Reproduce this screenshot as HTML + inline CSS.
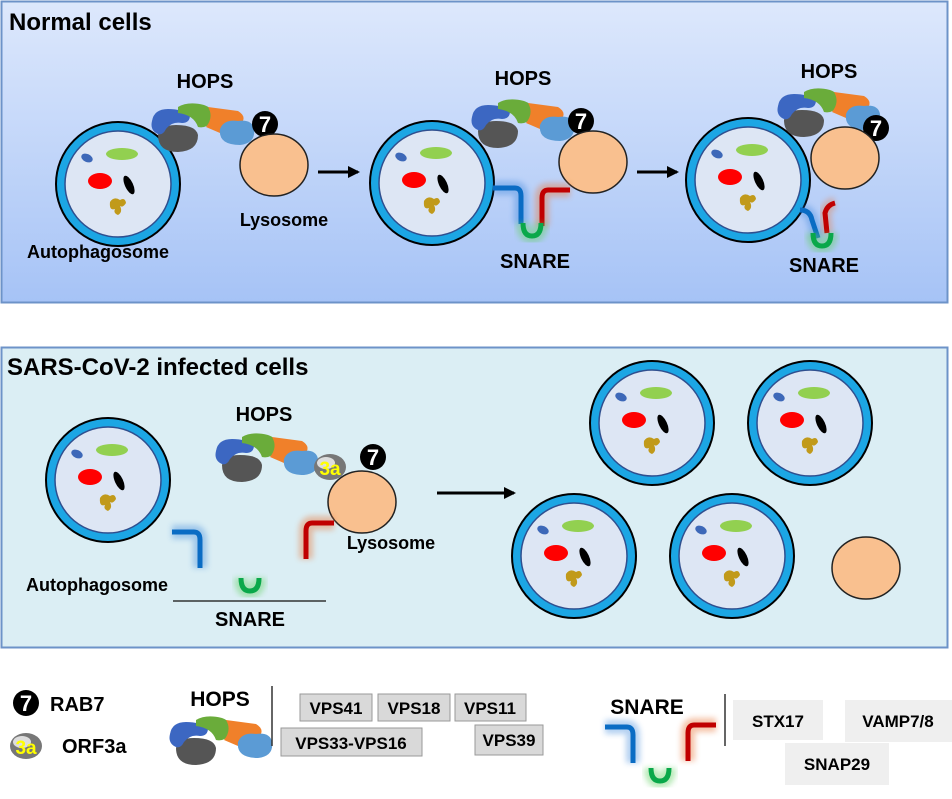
<!DOCTYPE html>
<html><head><meta charset="utf-8"><style>
html,body{margin:0;padding:0;background:#fff;}
svg{display:block;font-family:"Liberation Sans",Arial,sans-serif;font-weight:bold;}
</style></head><body>
<svg width="952" height="799" viewBox="0 0 952 799" xmlns="http://www.w3.org/2000/svg">
<defs>
<linearGradient id="g1" x1="0" y1="0" x2="0" y2="1">
<stop offset="0" stop-color="#dde8fc"/><stop offset="1" stop-color="#a6c3f6"/></linearGradient>
<filter id="bl" x="-50%" y="-50%" width="200%" height="200%"><feGaussianBlur stdDeviation="3"/></filter>
<g id="cell">
<circle r="62" fill="#1ca6e4" stroke="#000" stroke-width="2"/>
<circle r="53" fill="#dde6f4" stroke="#2f4f8f" stroke-width="1.5"/>
<ellipse cx="-31" cy="-26" rx="6" ry="4" fill="#3d68b8" transform="rotate(25 -31 -26)"/>
<ellipse cx="4" cy="-30" rx="16" ry="6" fill="#92d050"/>
<ellipse cx="-18" cy="-3" rx="12" ry="8" fill="#f00"/>
<ellipse cx="11" cy="1" rx="4" ry="10" fill="#000" transform="rotate(-25 11 1)"/>
<path d="M-8 18 q4 -6 10 -2 q5 -3 6 3 q-3 5 -6 3 q3 6 -2 9 q-5 -2 -3 -6 q-6 2 -5 -7z" fill="#c19a1a"/>
</g>
<g id="lyso"><ellipse rx="34" ry="31" fill="#f9c08f" stroke="#222" stroke-width="1.5"/></g>
<g id="hops">
<path d="M8 36 q2 -10 18 -10 q20 0 22 10 q0 16 -20 17 q-20 0 -20 -17z" fill="#555"/>
<path d="M2 22 q2 -12 16 -12 q14 0 22 6 q0 8 -8 8 q-10 -2 -16 6 q-4 8 -10 4 q-6 -4 -4 -12z" fill="#3c67c2"/>
<path d="M28 8 q10 -6 26 -2 q12 4 8 16 q-6 8 -14 6 q-4 -12 -20 -14z" fill="#6aac3a"/>
<path d="M58 8 l30 4 q10 6 2 14 q-12 4 -20 8 l-14 -6 q8 -10 2 -20z" fill="#f0802a"/>
<path d="M70 30 q4 -10 18 -8 q14 -2 16 8 q2 14 -14 16 q-22 0 -20 -16z" fill="#5b9bd5"/>
</g>
<g id="rab7"><circle r="13" fill="#000"/><text x="0" y="8" font-size="22" fill="#fff" text-anchor="middle">7</text></g>
<g id="orf"><ellipse rx="16" ry="13" fill="#777"/><ellipse cx="-4" cy="-4" rx="9" ry="6" fill="#ddd"/><text x="0" y="8" font-size="19" fill="#ff0" text-anchor="middle">3a</text></g>
<g id="blue"><path d="M0 0 h22 q6 0 6 8 v28" fill="none" stroke="#2a7bd8" stroke-width="14" opacity="0.35" filter="url(#bl)"/><path d="M0 0 h22 q6 0 6 8 v28" fill="none" stroke="#0a6cc4" stroke-width="5"/></g>
<g id="red"><path d="M0 0 h-22 q-6 0 -6 8 v28" fill="none" stroke="#e87a40" stroke-width="14" opacity="0.45" filter="url(#bl)"/><path d="M0 0 h-22 q-6 0 -6 8 v28" fill="none" stroke="#c00000" stroke-width="5"/></g>
<g id="green"><path d="M-9 0 q0 13 9 13 q9 0 9 -13" fill="none" stroke="#60d060" stroke-width="14" opacity="0.45" filter="url(#bl)"/><path d="M-9 0 q0 13 9 13 q9 0 9 -13" fill="none" stroke="#0aa84a" stroke-width="5"/></g>
<marker id="ar" markerWidth="12" markerHeight="12" refX="10" refY="6" orient="auto" markerUnits="userSpaceOnUse"><path d="M0 0 L12 6 L0 12z" fill="#000"/></marker>
</defs>

<!-- Panel 1 -->
<rect x="1.5" y="1.5" width="946" height="301" fill="url(#g1)" stroke="#6d93c8" stroke-width="2"/>
<text x="9" y="30" font-size="24">Normal cells</text>
<use href="#cell" x="118" y="184"/>
<use href="#hops" x="150" y="99"/>
<use href="#rab7" x="265" y="124"/>
<use href="#lyso" x="274" y="165"/>
<text x="284" y="226" font-size="18" text-anchor="middle">Lysosome</text>
<text x="98" y="258" font-size="18" text-anchor="middle">Autophagosome</text>
<text x="205" y="88" font-size="20" text-anchor="middle">HOPS</text>
<line x1="318" y1="172" x2="358" y2="172" stroke="#000" stroke-width="3" marker-end="url(#ar)"/>

<use href="#cell" x="432" y="183"/>
<use href="#hops" x="470" y="95"/>
<use href="#rab7" x="581" y="121"/>
<use href="#lyso" x="593" y="162"/>
<text x="523" y="85" font-size="20" text-anchor="middle">HOPS</text>
<use href="#blue" x="493" y="188"/>
<use href="#red" x="570" y="190"/>
<use href="#green" x="532" y="223"/>
<text x="535" y="268" font-size="20" text-anchor="middle">SNARE</text>
<line x1="637" y1="172" x2="677" y2="172" stroke="#000" stroke-width="3" marker-end="url(#ar)"/>

<use href="#cell" x="748" y="180"/>
<use href="#hops" x="776" y="84"/>
<use href="#rab7" x="876" y="128"/>
<use href="#lyso" x="845" y="158"/>
<text x="829" y="78" font-size="20" text-anchor="middle">HOPS</text>
<path d="M800 210 q10 0 12 10 l6 18" fill="none" stroke="#2a7bd8" stroke-width="12" opacity="0.35" filter="url(#bl)"/>
<path d="M800 210 q10 0 12 10 l6 18" fill="none" stroke="#0a6cc4" stroke-width="5"/>
<path d="M835 203 q-8 2 -10 10 l2 20" fill="none" stroke="#e87a40" stroke-width="12" opacity="0.4" filter="url(#bl)"/>
<path d="M835 203 q-8 2 -10 10 l2 20" fill="none" stroke="#c00000" stroke-width="5"/>
<use href="#green" x="822" y="233"/>
<text x="824" y="272" font-size="20" text-anchor="middle">SNARE</text>

<!-- Panel 2 -->
<rect x="1.5" y="347.5" width="946" height="300" fill="#dbeef4" stroke="#6d93c8" stroke-width="2"/>
<text x="7" y="375" font-size="24">SARS-CoV-2 infected cells</text>
<use href="#cell" x="108" y="480"/>
<use href="#hops" x="214" y="429"/>
<use href="#orf" x="330" y="467"/>
<use href="#rab7" x="373" y="457"/>
<use href="#lyso" x="362" y="502"/>
<text x="264" y="421" font-size="20" text-anchor="middle">HOPS</text>
<text x="391" y="549" font-size="18" text-anchor="middle">Lysosome</text>
<text x="97" y="591" font-size="18" text-anchor="middle">Autophagosome</text>
<use href="#blue" x="172" y="532"/>
<use href="#red" x="334" y="523"/>
<use href="#green" x="250" y="578"/>
<line x1="173" y1="601" x2="326" y2="601" stroke="#333" stroke-width="1.5"/>
<text x="250" y="626" font-size="20" text-anchor="middle">SNARE</text>
<line x1="437" y1="493" x2="514" y2="493" stroke="#000" stroke-width="3" marker-end="url(#ar)"/>
<use href="#cell" x="652" y="423"/>
<use href="#cell" x="810" y="423"/>
<use href="#cell" x="574" y="556"/>
<use href="#cell" x="732" y="556"/>
<use href="#lyso" x="866" y="568"/>

<!-- Legend -->
<use href="#rab7" x="26" y="703"/>
<text x="50" y="711" font-size="20">RAB7</text>
<use href="#orf" x="26" y="746"/>
<text x="62" y="753" font-size="20">ORF3a</text>
<text x="220" y="706" font-size="21" text-anchor="middle">HOPS</text>
<use href="#hops" x="168" y="712"/>
<line x1="272" y1="686" x2="272" y2="746" stroke="#333" stroke-width="1.5"/>
<g font-size="17" text-anchor="middle" stroke="none">
<rect x="300" y="694" width="72" height="27" fill="#d9d9d9" stroke="#999"/><text x="336" y="714">VPS41</text>
<rect x="378" y="694" width="72" height="27" fill="#d9d9d9" stroke="#999"/><text x="414" y="714">VPS18</text>
<rect x="455" y="694" width="71" height="27" fill="#d9d9d9" stroke="#999"/><text x="490" y="714">VPS11</text>
<rect x="281" y="728" width="141" height="28" fill="#d9d9d9" stroke="#999"/><text x="351" y="749">VPS33-VPS16</text>
<rect x="475" y="725" width="68" height="30" fill="#d9d9d9" stroke="#999"/><text x="509" y="746">VPS39</text>
</g>
<text x="647" y="714" font-size="21" text-anchor="middle">SNARE</text>
<use href="#blue" x="605" y="727"/>
<use href="#red" x="716" y="725"/>
<use href="#green" x="660" y="768"/>
<line x1="725" y1="694" x2="725" y2="746" stroke="#333" stroke-width="1.5"/>
<g font-size="17" text-anchor="middle">
<rect x="733" y="700" width="90" height="40" fill="#efefef"/><text x="778" y="727">STX17</text>
<rect x="845" y="700" width="107" height="42" fill="#efefef"/><text x="898" y="727">VAMP7/8</text>
<rect x="785" y="743" width="104" height="42" fill="#efefef"/><text x="837" y="770">SNAP29</text>
</g>
</svg>
</body></html>
